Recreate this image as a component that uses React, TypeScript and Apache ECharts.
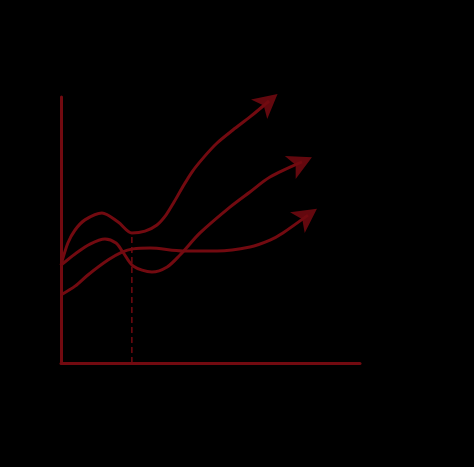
import React, { useEffect, useRef } from 'react';
import * as echarts from 'echarts';

// 三条曲线（x: 0-100 横轴, y: 0-100 纵轴），末点为箭头所在处
const upperCurve: number[][] = [
  [0, 36.8], [2.3, 45.1], [4.7, 50.0], [8.0, 53.8], [13.7, 56.4], [19.1, 53.0],
  [23.7, 48.9], [28.1, 49.6], [32.1, 51.9], [35.1, 55.6], [37.8, 60.5], [40.5, 65.8],
  [43.8, 71.8], [47.8, 77.4], [52.2, 82.7], [57.5, 87.6], [63.2, 92.5], [69.6, 98.5],
];
const middleCurve: number[][] = [
  [0, 36.8], [4.7, 41.0], [9.7, 44.7], [14.7, 46.6], [18.4, 45.1], [20.7, 41.7],
  [24.1, 36.5], [30.4, 34.2], [35.5, 36.1], [39.8, 40.6], [46.5, 48.9], [56.5, 58.6],
  [63.2, 64.3], [69.9, 69.9], [80.6, 75.6],
];
const lowerCurve: number[][] = [
  [0, 25.6], [4.7, 28.9], [9.0, 33.1], [15.7, 38.7], [20.4, 41.7], [24.1, 42.9],
  [29.8, 43.2], [40.8, 42.1], [52.2, 42.1], [63.2, 43.6], [69.9, 46.2], [74.2, 48.9],
  [82.6, 55.6],
];
// 虚线标记位置
const markerLine: number[][] = [[23.7, 0], [23.7, 48.9]];

const COLOR = '#720a10';
const ARROW_COLOR = '#7c0a11';
const ARROW_SIZE = [19, 24];

const curves = [upperCurve, middleCurve, lowerCurve];

export default function App() {
  const chartRef = useRef<HTMLDivElement>(null);

  useEffect(() => {
    if (!chartRef.current) return;
    document.body.style.margin = '0';
    document.body.style.background = '#000';

    const chart = echarts.init(chartRef.current, undefined, { renderer: 'svg' });

    const option: echarts.EChartsOption = {
      animation: false,
      backgroundColor: '#000',
      grid: { left: 61, right: 114, top: 97, bottom: 104 },
      xAxis: {
        type: 'value',
        min: 0,
        max: 100,
        axisLine: { lineStyle: { color: COLOR, width: 3 } },
        axisTick: { show: false },
        axisLabel: { show: false },
        splitLine: { show: false },
      },
      yAxis: {
        type: 'value',
        min: 0,
        max: 100,
        axisLine: { show: true, lineStyle: { color: COLOR, width: 3 } },
        axisTick: { show: false },
        axisLabel: { show: false },
        splitLine: { show: false },
      },
      series: [
        ...curves.map((d, i) => ({
          id: 'curve' + i,
          type: 'line' as const,
          data: d,
          smooth: 0.3,
          symbol: 'none',
          clip: false,
          lineStyle: { color: COLOR, width: 3 },
        })),
        {
          id: 'marker',
          type: 'line',
          data: markerLine,
          symbol: 'none',
          lineStyle: { color: COLOR, width: 1.5, type: [6, 4] },
        },
        {
          id: 'arrows',
          type: 'scatter',
          clip: false,
          data: [],
        },
      ],
    };

    chart.setOption(option);

    // 箭头：按末段方向旋转，并沿方向前移半个箭头长度
    const arrowData = curves.map((d) => {
      const a = chart.convertToPixel({ gridIndex: 0 }, d[d.length - 2]) as number[];
      const b = chart.convertToPixel({ gridIndex: 0 }, d[d.length - 1]) as number[];
      const dx = b[0] - a[0];
      const dy = b[1] - a[1];
      const len = Math.hypot(dx, dy);
      const rot = (Math.atan2(-dx, -dy) * 180) / Math.PI;
      const shift = ARROW_SIZE[1] / 2 - 1;
      const pos = chart.convertFromPixel({ gridIndex: 0 }, [
        b[0] + (dx / len) * shift,
        b[1] + (dy / len) * shift,
      ]);
      return {
        value: pos,
        symbol: 'arrow',
        symbolSize: ARROW_SIZE,
        symbolRotate: rot,
        itemStyle: { color: ARROW_COLOR },
      };
    });
    chart.setOption({ series: [{ id: 'arrows', data: arrowData }] });

    return () => {
      chart.dispose();
    };
  }, []);

  return (
    <div
      ref={chartRef}
      style={{ position: 'absolute', left: 0, top: 0, width: 474, height: 467 }}
    />
  );
}
